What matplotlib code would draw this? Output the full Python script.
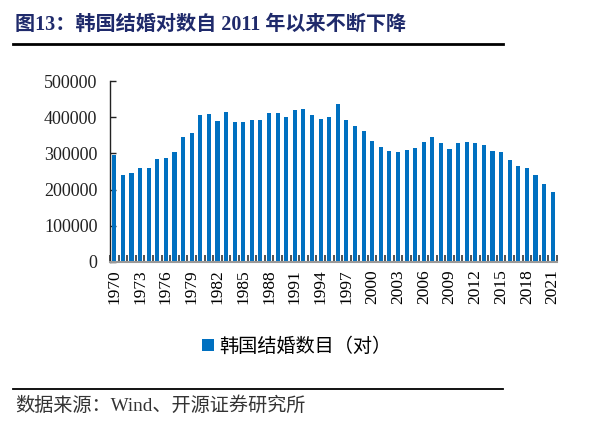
import matplotlib
matplotlib.use("Agg")
import matplotlib.pyplot as plt
from matplotlib.lines import Line2D
from matplotlib.patches import Patch
import numpy as np

years = list(range(1970, 2022))
marriages = [296000, 240000, 245000, 260000, 261000, 284000, 287000, 304000, 344000, 357000,
             406000, 409000, 389000, 414000, 387000, 387000, 392000, 392000, 412000, 412000,
             401000, 419000, 422000, 405000, 395000, 400000, 437000, 391000, 375000, 361000,
             334000, 319000, 307000, 304000, 309000, 316000, 332000, 345000, 330000, 312000,
             328000, 332000, 330000, 324000, 308000, 305000, 283000, 265000, 259000, 240000,
             215000, 193000]
yticks = [0, 100000, 200000, 300000, 400000, 500000]
title = "图13：韩国结婚对数自 2011 年以来不断下降"
legend_label = "韩国结婚数目（对）"
source = "数据来源：Wind、开源证券研究所"

serif = ["Liberation Serif", "Noto Sans CJK SC"]
plt.rcParams["font.family"] = serif

W, H = 599, 425
fig = plt.figure(figsize=(W / 100, H / 100), dpi=100)
ax = fig.add_axes([110 / W, 1 - 262 / H, (557 - 110) / W, (262 - 81) / H])

x = np.arange(len(years))
ax.bar(x, marriages, width=0.48, color="#0070C0", zorder=2)
ax.set_xlim(-0.5, len(years) - 0.5)
ax.set_ylim(0, 500000)
ax.set_yticks(yticks)
ax.set_yticklabels([str(v) for v in yticks], fontsize=13)
ax.tick_params(axis="y", direction="in", length=4, width=1, pad=9, colors="#222222")

lab_idx = [i for i, y in enumerate(years) if (y - 1970) % 3 == 0]
ax.set_xticks(lab_idx)
ax.set_xticklabels([str(years[i]) for i in lab_idx], rotation=90, fontsize=12.5)
ax.tick_params(axis="x", which="major", length=0, pad=5)
ax.set_xticks(np.arange(-0.5, len(years), 1), minor=True)
ax.tick_params(axis="x", which="minor", direction="in", length=5, width=1.3, color="#444444")

for s in ["top", "right"]:
    ax.spines[s].set_visible(False)
ax.spines["left"].set_color("#222222")
ax.spines["left"].set_linewidth(1)
ax.spines["bottom"].set_color("#999999")
ax.spines["bottom"].set_linewidth(1.5)

handle = Patch(facecolor="#0070C0", edgecolor="none")
fig.legend([handle], [legend_label], loc="center", bbox_to_anchor=(297 / W, 1 - 346 / H),
           frameon=False, handlelength=0.6, handleheight=0.6, handletextpad=0.3,
           prop={"family": ["Noto Sans CJK SC"], "size": 13.8})

fig.text(15 / W, 1 - 25 / H, title, fontsize=14.5, fontweight="bold", color="#1F2A6B",
         va="center", ha="left")
fig.add_artist(Line2D([13 / W, 503 / W], [1 - 44 / H, 1 - 44 / H], color="black", lw=2))
fig.add_artist(Line2D([13 / W, 503 / W], [1 - 389 / H, 1 - 389 / H], color="black", lw=1.3))
fig.text(15 / W, 1 - 406 / H, source, fontsize=13.8, color="#333333", va="center", ha="left")

fig.savefig("out.png", dpi=100)
